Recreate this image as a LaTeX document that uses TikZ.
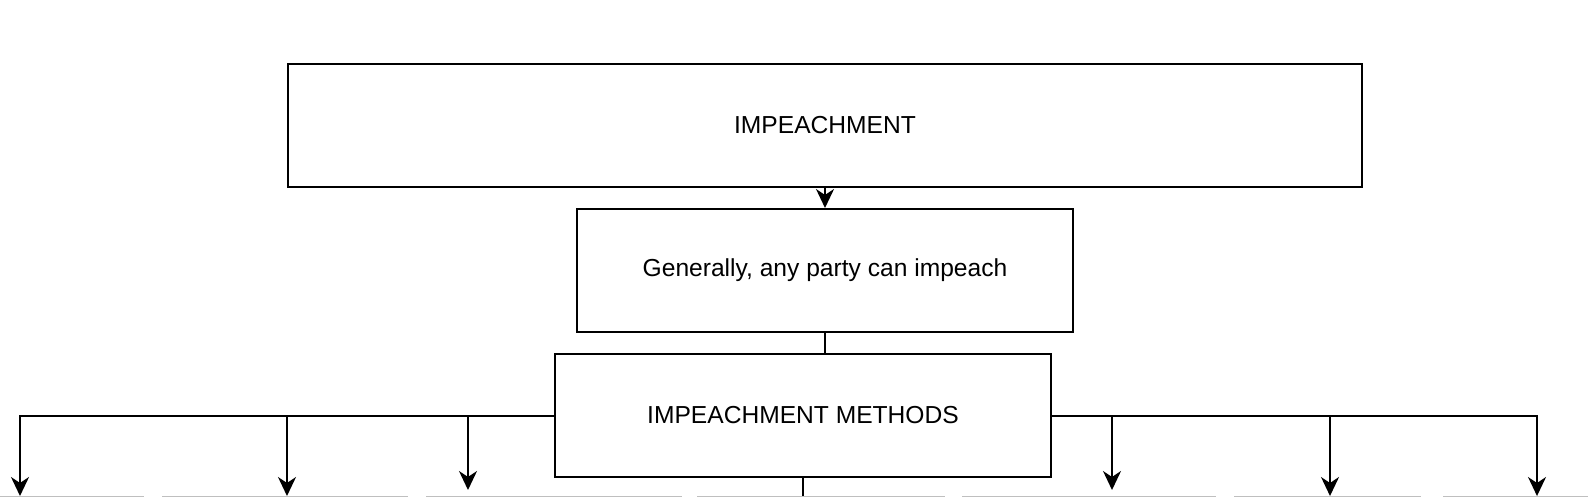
\documentclass[tikz,border=0pt]{standalone}
\usepackage{fontspec}
\setmainfont{Liberation Sans}
\usetikzlibrary{calc,positioning,arrows.meta}
\tikzstyle{entry}=[draw, line width=1pt, minimum height=61.5pt, inner sep=0pt, font=\fontsize{12.3}{14}\selectfont]
\tikzstyle{head}=[entry, minimum width=537pt]
\tikzstyle{sub}=[entry, minimum width=248pt]
\tikzstyle{method}=[draw=black!25, line width=0.5pt, minimum height=30pt, anchor=north west]
\tikzstyle{link}=[line width=1pt, -{Stealth[length=9.5pt,width=9pt,inset=3pt]}]

\begin{document}
\begin{tikzpicture}
\useasboundingbox (0,0) rectangle (794pt,-248.5pt);
\node (imp) at (412.5pt,-62.75pt) [head] {IMPEACHMENT};
\node (gen) at ([yshift=-72.5pt]imp) [sub] {Generally, any party can impeach};
\node (meth) at ([xshift=-11pt,yshift=-72.5pt]gen) [sub] {IMPEACHMENT METHODS};

% boxes below, cut off by the page edge
\node (m1) at (-40pt,-248pt) [method, minimum width=111.5pt] {};
\node (m2) at (81pt,-248pt) [method, minimum width=122.5pt] {};
\node (m3) at (213pt,-248pt) [method, minimum width=127.5pt] {};
\node (m4) at (348.5pt,-248pt) [method, minimum width=123.5pt] {};
\node (m5) at (481pt,-248pt) [method, minimum width=126.5pt] {};
\node (m6) at (617pt,-248pt) [method, minimum width=93pt] {};
\node (m7) at (721.5pt,-248pt) [method, minimum width=120pt] {};

\draw[link] (imp.south) -- (gen.north);
\draw[line width=1pt] (gen.south) -- (gen.south |- meth.north);
\draw[line width=1pt] (meth.south) -- (meth.south |- m4.north);

\foreach \x/\m in {10/m1, 143.5/m2}
  \draw[link] (meth.west) -| (\x pt,0 |- \m.north);
\draw[link, shorten >=3pt] (meth.west) -| (234pt,0 |- m3.north);
\draw[link, shorten >=3pt] (meth.east) -| (556pt,0 |- m5.north);
\foreach \x/\m in {665/m6, 768.5/m7}
  \draw[link] (meth.east) -| (\x pt,0 |- \m.north);

\end{tikzpicture}
\end{document}
